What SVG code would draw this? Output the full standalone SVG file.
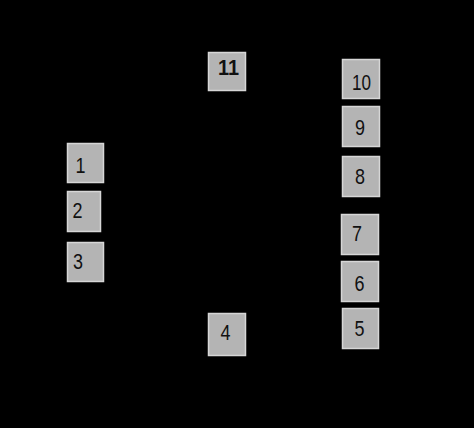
<svg xmlns="http://www.w3.org/2000/svg" width="474" height="428" viewBox="0 0 474 428">
<defs>
<style>
.box{fill:#b4b4b4;stroke:#d6d6d6;stroke-width:1.5}
.lbl{font-family:"Liberation Sans",Arial,sans-serif;font-size:22px;fill:#111;text-anchor:middle}
.bold{font-weight:bold}
.tick{fill:#000}
</style>
</defs>
<rect x="0" y="0" width="474" height="428" fill="#000"/>
<g id="connectors">
<path class="tick" d="M339 123 L343.5 126 L339 129 Z"/>
<path class="tick" d="M338 278 L342.5 281 L338 284 Z"/>
</g>
<g id="node-11"><rect class="box" x="208.5" y="52.5" width="37" height="38"/><text class="lbl bold" x="228.5" y="74.5" textLength="21" lengthAdjust="spacingAndGlyphs">11</text></g>
<g id="node-10"><rect class="box" x="342.5" y="59.5" width="37" height="39"/><text class="lbl" x="361.5" y="89.5" textLength="19" lengthAdjust="spacingAndGlyphs">10</text></g>
<g id="node-9"><rect class="box" x="342.5" y="106.5" width="37" height="40"/><text class="lbl" x="360" y="134.5" textLength="10" lengthAdjust="spacingAndGlyphs">9</text></g>
<g id="node-8"><rect class="box" x="342.5" y="156.5" width="37" height="40"/><text class="lbl" x="360" y="184" textLength="10" lengthAdjust="spacingAndGlyphs">8</text></g>
<g id="node-1"><rect class="box" x="67.5" y="143.5" width="36" height="39"/><text class="lbl" x="80.5" y="173" textLength="10" lengthAdjust="spacingAndGlyphs">1</text></g>
<g id="node-2"><rect class="box" x="67.5" y="191.5" width="33" height="40"/><text class="lbl" x="77.5" y="217.5" textLength="10" lengthAdjust="spacingAndGlyphs">2</text></g>
<g id="node-3"><rect class="box" x="67.5" y="242.5" width="36" height="39"/><text class="lbl" x="78" y="269" textLength="10" lengthAdjust="spacingAndGlyphs">3</text></g>
<g id="node-7"><rect class="box" x="341.5" y="214.5" width="37" height="40"/><text class="lbl" x="357" y="240.5" textLength="10" lengthAdjust="spacingAndGlyphs">7</text></g>
<g id="node-6"><rect class="box" x="341.5" y="261.5" width="37" height="40"/><text class="lbl" x="359.5" y="290.5" textLength="10" lengthAdjust="spacingAndGlyphs">6</text></g>
<g id="node-5"><rect class="box" x="342.5" y="308.5" width="36" height="40"/><text class="lbl" x="359.5" y="335.5" textLength="10" lengthAdjust="spacingAndGlyphs">5</text></g>
<g id="node-4"><rect class="box" x="208.5" y="313.5" width="37" height="42"/><text class="lbl" x="225.5" y="339.5" textLength="10" lengthAdjust="spacingAndGlyphs">4</text></g>
</svg>
